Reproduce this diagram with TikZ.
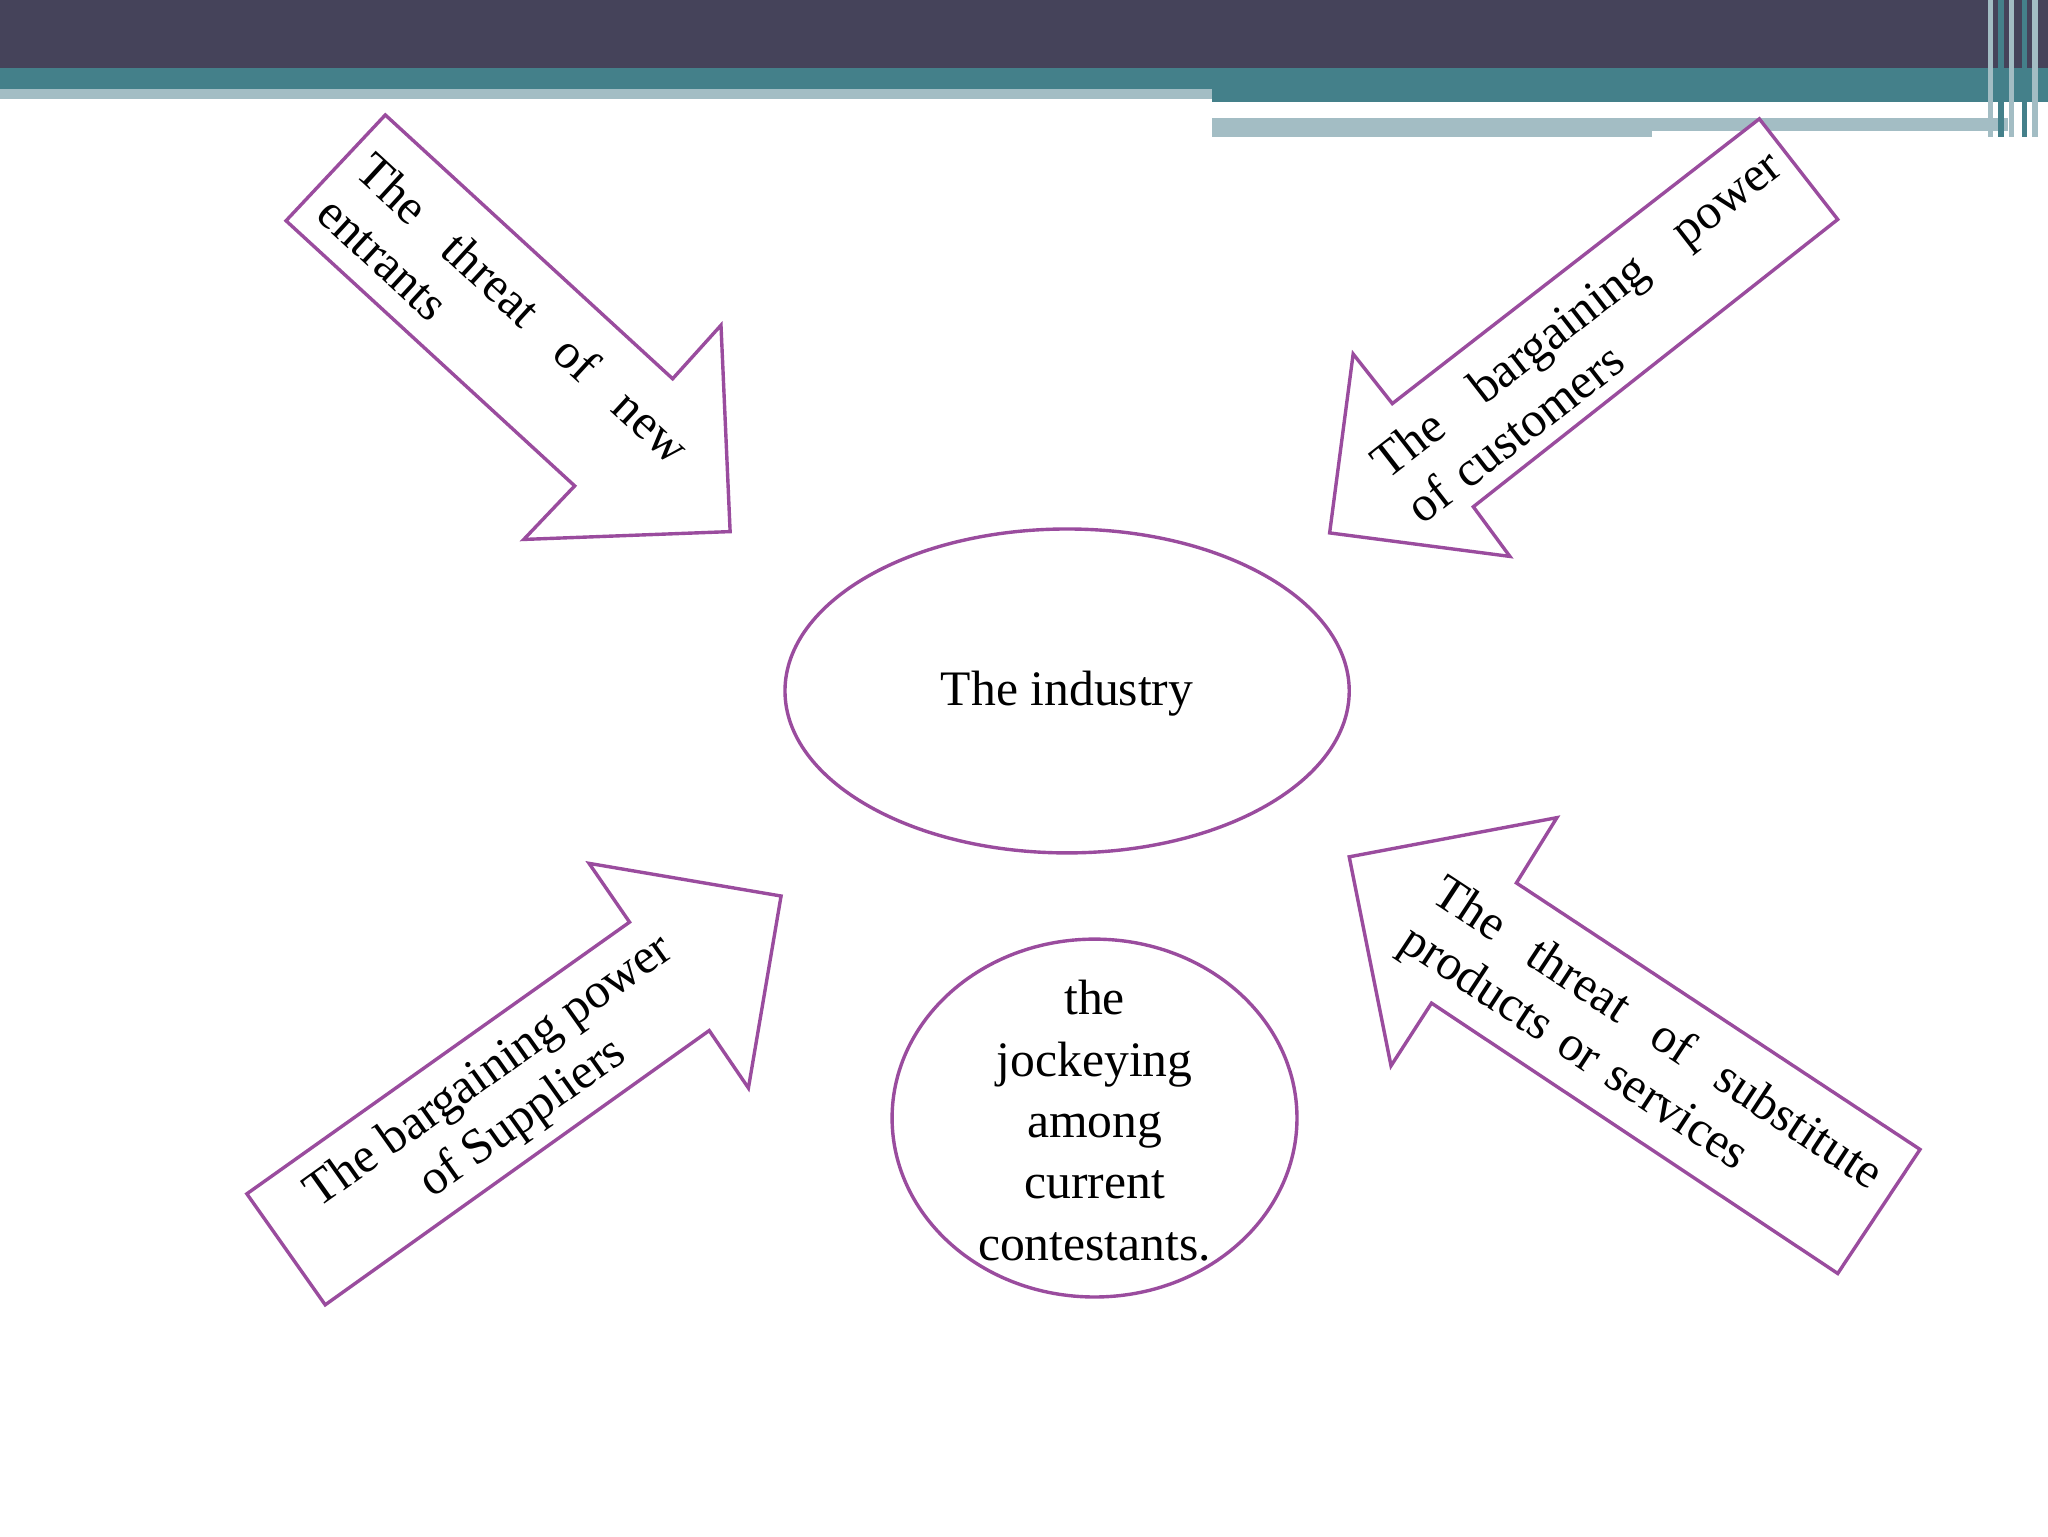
\documentclass[tikz,border=0pt]{standalone}
\usepackage{fontspec}
\setmainfont{Liberation Serif}
\definecolor{pur}{HTML}{9A4C9E}
\definecolor{dark}{HTML}{45435A}
\definecolor{teal}{HTML}{44808A}
\definecolor{lite}{HTML}{A3BDC4}
\begin{document}
\begin{tikzpicture}[x=1pt,y=-1pt,
  shp/.style={draw=pur,line width=2.6pt,fill=white},
  txt/.style={font=\fontsize{38}{44}\selectfont,inner sep=0pt}]
\useasboundingbox (0,0) rectangle (1568,1176);
\fill[white] (0,0) rectangle (1568,1176);
% top bars
\fill[dark] (0,0) rectangle (1568,52);
\fill[teal] (0,52) rectangle (1568,68);
\fill[lite] (0,68) rectangle (928,76);
\fill[teal] (928,68) rectangle (1568,78);
\fill[lite] (928,90) rectangle (1265,105);
\fill[lite] (1265,90) rectangle (1537,100);
\fill[white] (928,85) rectangle (1452,89);
\foreach \x/\c in {1522/lite,1530/teal,1538/lite,1548/teal,1556/lite}
  \fill[\c] (\x,0) rectangle (\x+4,105);
% arrows
\draw[shp] (295,88)--(515,290)--(552,249)--(559,407)--(401,413)--(440,372)--(219,169)--cycle;
\draw[shp] (1347,91)--(1407,168)--(1128,388)--(1156,426)--(1018,408)--(1036,271)--(1066,309)--cycle;
\draw[shp] (189,914)--(482,706)--(451,661)--(598,686)--(573,833)--(543,789)--(249,999)--cycle;
\draw[shp] (1033,656)--(1192,626)--(1161,676)--(1470,880)--(1407,975)--(1096,768)--(1065,816)--cycle;
\node[txt,rotate=-42.6,text width=330,align=left] (t1) at (386,252)
  {\hbox to 330pt{The\hfil threat\hfil of\hfil new}\\entrants};
\node[txt,rotate=37.8,text width=385,align=left] (t2) at (1220,257)
  {\hbox to 385pt{The\hfil bargaining\hfil power}\\of customers};
\node[txt,rotate=35.4,align=center] (t3) at (388,839) {The bargaining power\\of Suppliers};
\node[txt,rotate=-33.4,text width=404,align=left] (t4) at (1256,811)
  {\hbox to 404pt{The\hfil threat\hfil of\hfil substitute}\\products or services};
% ellipses
\draw[pur,line width=2.6pt] (817,529) ellipse [x radius=216,y radius=124];
\node[txt] (ind) at (817,531) {The industry};
\draw[pur,line width=2.6pt] (838,856) ellipse [x radius=155,y radius=137];
\node[txt,align=center,font=\fontsize{38}{47}\selectfont] (jk) at (838,858) {the\\jockeying\\among\\current\\contestants.};
\end{tikzpicture}
\end{document}
